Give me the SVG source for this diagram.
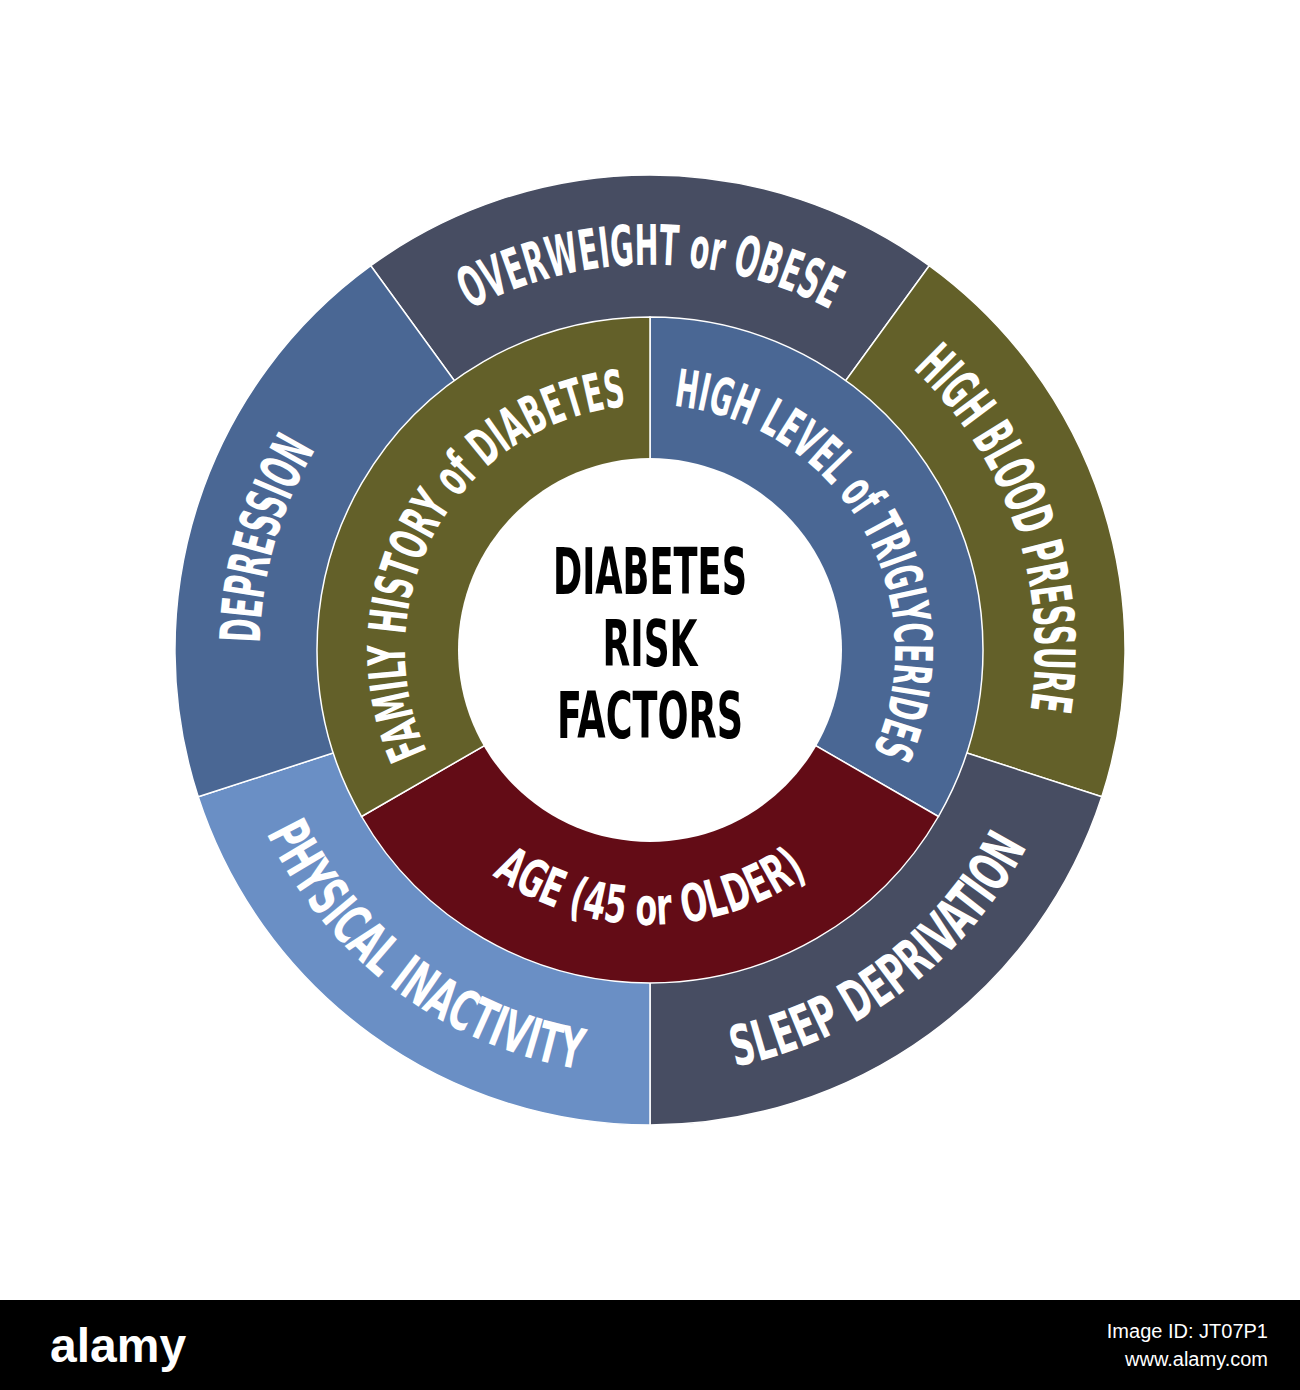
<svg xmlns="http://www.w3.org/2000/svg" width="1300" height="1390" viewBox="0 0 1300 1390">
<style>
.seg{stroke:#fff;stroke-width:1.5}
.lbl{fill:#fff;font-family:"Liberation Sans Narrow","DejaVu Sans Condensed","Liberation Sans",sans-serif;font-weight:bold;font-stretch:condensed}
.ctr{fill:#000;font-family:"Liberation Sans Narrow","DejaVu Sans Condensed","Liberation Sans",sans-serif;font-weight:bold;font-stretch:condensed;font-size:64px;text-anchor:middle}
</style>
<defs>
<path id="pOver" d="M270.8,583.2 A385,385 0 0 1 1029.2,583.2"/>
<path id="pBP" d="M589.8,269.7 A385,385 0 0 1 836.6,986.7"/>
<path id="pDep" d="M479.0,1000.5 A390,390 0 0 1 690.8,262.1"/>
<path id="pFam" d="M492.5,837.7 A245,245 0 0 1 733.8,419.8"/>
<path id="pTri" d="M566.2,419.8 A245,245 0 0 1 807.5,837.7"/>
<path id="pSleep" d="M360.1,960.8 A425,425 0 0 0 1028.7,457.0"/>
<path id="pPhys" d="M271.3,457.0 A425,425 0 0 0 939.9,960.8"/>
<path id="pAge" d="M379.2,697.7 A275,275 0 0 0 920.8,697.7"/>
</defs>
<rect width="1300" height="1390" fill="#fff"/>
<g id="overweight"><path class="seg" fill="#474d62" d="M650,650 L370.8,265.7 A475,475 0 0 1 929.2,265.7 Z"/></g>
<g id="bloodpressure"><path class="seg" fill="#636029" d="M650,650 L929.2,265.7 A475,475 0 0 1 1101.8,796.8 Z"/></g>
<g id="sleep"><path class="seg" fill="#474d62" d="M650,650 L1101.8,796.8 A475,475 0 0 1 650,1125 Z"/></g>
<g id="physical"><path class="seg" fill="#6a8fc5" d="M650,650 L650,1125 A475,475 0 0 1 198.2,796.8 Z"/></g>
<g id="depression"><path class="seg" fill="#4a6794" d="M650,650 L198.2,796.8 A475,475 0 0 1 370.8,265.7 Z"/></g>
<g id="triglycerides"><path class="seg" fill="#4a6794" d="M650,650 L650,317 A333,333 0 0 1 938.4,816.5 Z"/></g>
<g id="age"><path class="seg" fill="#630c16" d="M650,650 L938.4,816.5 A333,333 0 0 1 361.6,816.5 Z"/></g>
<g id="family"><path class="seg" fill="#636029" d="M650,650 L361.6,816.5 A333,333 0 0 1 650,317 Z"/></g>
<g id="center"><circle cx="650" cy="650" r="192" fill="#fff"/>
<text class="ctr" x="650" y="594" textLength="194" lengthAdjust="spacingAndGlyphs">DIABETES</text>
<text class="ctr" x="650" y="666" textLength="95" lengthAdjust="spacingAndGlyphs">RISK</text>
<text class="ctr" x="650" y="738" textLength="186" lengthAdjust="spacingAndGlyphs">FACTORS</text></g>
<g id="labels">
<text class="lbl" font-size="56"><textPath href="#pOver" startOffset="50%" text-anchor="middle" textLength="375" lengthAdjust="spacingAndGlyphs">OVERWEIGHT or OBESE</textPath></text>
<text class="lbl" font-size="56"><textPath href="#pBP" startOffset="50%" text-anchor="middle" textLength="376" lengthAdjust="spacingAndGlyphs">HIGH BLOOD PRESSURE</textPath></text>
<text class="lbl" font-size="56"><textPath href="#pDep" startOffset="50%" text-anchor="middle" textLength="204" lengthAdjust="spacingAndGlyphs">DEPRESSION</textPath></text>
<text class="lbl" font-size="56"><textPath href="#pSleep" startOffset="50%" text-anchor="middle" textLength="378" lengthAdjust="spacingAndGlyphs">SLEEP DEPRIVATION</textPath></text>
<text class="lbl" font-size="56"><textPath href="#pPhys" startOffset="50%" text-anchor="middle" textLength="408" lengthAdjust="spacingAndGlyphs">PHYSICAL INACTIVITY</textPath></text>
<text class="lbl" font-size="52"><textPath href="#pFam" startOffset="50%" text-anchor="middle" textLength="466" lengthAdjust="spacingAndGlyphs">FAMILY HISTORY of DIABETES</textPath></text>
<text class="lbl" font-size="52"><textPath href="#pTri" startOffset="50%" text-anchor="middle" textLength="466" lengthAdjust="spacingAndGlyphs">HIGH LEVEL of TRIGLYCERIDES</textPath></text>
<text class="lbl" font-size="52"><textPath href="#pAge" startOffset="50%" text-anchor="middle" textLength="336" lengthAdjust="spacingAndGlyphs">AGE (45 or OLDER)</textPath></text>
</g>
<g id="footer">
<rect x="0" y="1300" width="1300" height="90" fill="#000"/>
<text x="50" y="1362" fill="#fff" font-family="Liberation Sans,sans-serif" font-weight="bold" font-size="48">alamy</text>
<text x="1268" y="1338" fill="#fff" text-anchor="end" font-family="Liberation Sans,sans-serif" font-size="20">Image ID: JT07P1</text>
<text x="1268" y="1366" fill="#fff" text-anchor="end" font-family="Liberation Sans,sans-serif" font-size="20">www.alamy.com</text>
</g>
</svg>
